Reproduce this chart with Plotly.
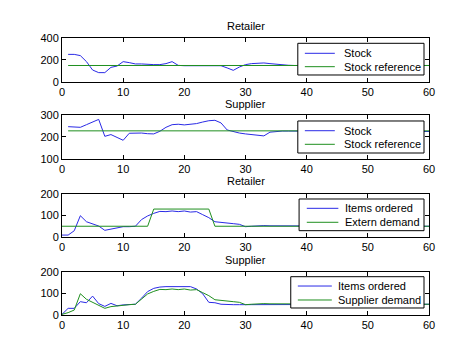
import plotly.graph_objects as go

# ---- data ----
t_stock = list(range(1, 61))
t_order = list(range(0, 61))

retailer_stock = [251, 251, 240, 185, 109, 85, 85, 133, 145, 185,
                  176, 164, 164, 158, 158, 158, 167, 185, 151, 148,
                  148, 148, 148, 148, 148, 148, 128, 106, 136, 158,
                  167, 170, 173, 167, 160, 155, 152, 150, 150, 150,
                  150, 150, 150, 150, 150, 150, 150, 150, 150, 150,
                  150, 150, 150, 150, 150, 150, 150, 150, 150, 150]
retailer_stock_ref = [150, 150, 150, 150, 150, 150, 150, 150, 150, 150,
                      150, 150, 150, 150, 150, 150, 150, 150, 150, 150,
                      150, 150, 150, 150, 150, 150, 150, 150, 150, 150,
                      150, 150, 150, 150, 150, 150, 150, 150, 150, 150,
                      150, 150, 150, 150, 150, 150, 150, 150, 150, 150,
                      150, 150, 150, 150, 150, 150, 150, 150, 150, 150]

supplier_stock = [247, 247, 244, 256, 268, 280, 203, 211, 198, 185,
                  217, 218, 218, 215, 214, 226, 244, 256, 258, 255,
                  258, 261, 268, 274, 276, 264, 232, 224, 218, 214,
                  211, 209, 205, 222, 226, 227, 227, 227, 227, 227,
                  227, 227, 227, 227, 227, 227, 227, 227, 227, 227,
                  226, 226, 226, 226, 226, 226, 225, 225, 225, 225]
supplier_stock_ref = [228, 228, 228, 228, 228, 228, 228, 228, 228, 228,
                      228, 228, 228, 228, 228, 228, 228, 228, 228, 228,
                      228, 228, 228, 228, 228, 228, 228, 228, 228, 228,
                      228, 228, 228, 228, 228, 228, 228, 228, 228, 228,
                      228, 228, 228, 228, 228, 228, 228, 228, 228, 228,
                      228, 228, 228, 228, 228, 228, 228, 228, 228, 228]

retailer_ordered = [9, 9, 29, 99, 71, 60, 51, 31, 37, 45,
                    48, 48, 50, 81, 98, 110, 119, 118, 121, 118,
                    121, 116, 118, 104, 90, 71, 67, 65, 62, 59,
                    48, 50, 52, 53, 52, 52, 51, 51, 50, 50,
                    50, 50, 50, 50, 50, 50, 50, 50, 50, 50,
                    50, 50, 50, 50, 50, 50, 50, 50, 50, 50, 50]
extern_demand = [50, 50, 50, 50, 50, 50, 50, 50, 50, 50,
                 50, 50, 50, 50, 50, 130, 130, 130, 130, 130,
                 130, 130, 130, 130, 130, 50, 50, 50, 50, 50,
                 50, 50, 50, 50, 50, 50, 50, 50, 50, 50,
                 50, 50, 50, 50, 50, 50, 50, 50, 50, 50,
                 50, 50, 50, 50, 50, 50, 50, 50, 50, 50, 50]

supplier_ordered = [3, 31, 31, 62, 57, 88, 53, 40, 54, 43,
                    47, 48, 50, 78, 109, 124, 130, 132, 132, 132,
                    132, 132, 121, 99, 59, 57, 50, 48, 48, 48,
                    48, 50, 48, 49, 50, 50, 50, 50, 50, 50,
                    50, 50, 50, 50, 50, 50, 50, 50, 50, 50,
                    50, 50, 50, 50, 50, 50, 50, 50, 50, 50, 50]
supplier_demand = [3, 11, 23, 99, 73, 59, 48, 31, 39, 43,
                   47, 48, 50, 73, 98, 110, 119, 118, 121, 118,
                   121, 116, 118, 104, 90, 71, 67, 65, 62, 59,
                   48, 50, 52, 53, 52, 52, 51, 51, 50, 50,
                   50, 50, 50, 50, 50, 50, 50, 50, 50, 50,
                   50, 50, 50, 50, 50, 50, 50, 50, 50, 50, 50]

titles = ["Retailer", "Supplier", "Retailer", "Supplier"]
x_ticks = [0, 10, 20, 30, 40, 50, 60]

BLUE = "#2a2ae6"
GREEN = "#1f8f1f"
FONT = "Liberation Sans, Arial, sans-serif"
FS = 11

fig = go.Figure()

panels = [
    (t_stock, retailer_stock, "Stock", t_stock, retailer_stock_ref, "Stock reference"),
    (t_stock, supplier_stock, "Stock", t_stock, supplier_stock_ref, "Stock reference"),
    (t_order, retailer_ordered, "Items ordered", t_order, extern_demand, "Extern demand"),
    (t_order, supplier_ordered, "Items ordered", t_order, supplier_demand, "Supplier demand"),
]

for i, (xa, ya, na, xb, yb, nb) in enumerate(panels):
    sfx = "" if i == 0 else str(i + 1)
    fig.add_trace(go.Scatter(x=xa, y=ya, name=na, mode="lines",
                             line=dict(color=BLUE, width=1), showlegend=False,
                             xaxis="x" + sfx, yaxis="y" + sfx))
    fig.add_trace(go.Scatter(x=xb, y=yb, name=nb, mode="lines",
                             line=dict(color=GREEN, width=1), showlegend=False,
                             xaxis="x" + sfx, yaxis="y" + sfx))

# layout geometry (pixels): plot area left 61.7, right 429, top 38, bottom 315
domains = [(0.8412, 1.0), (0.5632, 0.722), (0.2816, 0.4368), (0.0, 0.1552)]
y_ranges = [(0, 400), (100, 300), (0, 200), (0, 200)]
y_ticks = [[0, 200, 400], [100, 200, 300], [0, 100, 200], [0, 100, 200]]
title_shift = [12, 11, 13, 12]

# legend boxes in axis-domain fractions: (x0, x1, y0, y1, line_x0, line_x1, text_x, row1_y, row2_y)
legend_geo = [
    (0.6425, 0.9864, 0.159, 0.8795, 0.6617, 0.7434, 0.7623, 0.652, 0.348),
    (0.6425, 0.9864, 0.136, 0.864, 0.6617, 0.7434, 0.7623, 0.643, 0.334),
    (0.6460, 0.9864, 0.147, 0.884, 0.6670, 0.7530, 0.7665, 0.667, 0.342),
    (0.6233, 0.9864, 0.163, 0.891, 0.6426, 0.7352, 0.7460, 0.674, 0.349),
]

axis_common = dict(showline=True, linecolor="black", linewidth=1, mirror="ticks",
                   ticks="inside", ticklen=4, tickcolor="black", showgrid=False,
                   zeroline=False, tickfont=dict(family=FONT, size=FS, color="black"))

layout = dict(
    width=474, height=356,
    margin=dict(l=54, r=53, t=30, b=49),
    paper_bgcolor="white", plot_bgcolor="white",
    font=dict(family=FONT, size=FS, color="black"),
    showlegend=False,
)

annotations = []
shapes = []
for i in range(4):
    sfx = "" if i == 0 else str(i + 1)
    layout["xaxis" + sfx] = dict(domain=[0, 1], range=[0, 60], tickvals=x_ticks,
                                 anchor="y" + sfx, **axis_common)
    layout["yaxis" + sfx] = dict(domain=list(domains[i]), range=list(y_ranges[i]),
                                 tickvals=y_ticks[i], anchor="x" + sfx, **axis_common)
    annotations.append(dict(text=titles[i], x=0.5, xref="paper", y=domains[i][1], yref="paper",
                            xanchor="center", yanchor="middle", yshift=title_shift[i],
                            showarrow=False, font=dict(family=FONT, size=FS, color="black")))
    # legend drawn as shapes + text
    x0, x1, y0, y1, lx0, lx1, tx, r1, r2 = legend_geo[i]
    xr = "x" + sfx + " domain"
    yr = "y" + sfx + " domain"
    shapes.append(dict(type="rect", xref=xr, yref=yr, x0=x0, x1=x1, y0=y0, y1=y1,
                       fillcolor="white", line=dict(color="black", width=1), layer="above"))
    for ry, col, name in ((r1, BLUE, panels[i][2]), (r2, GREEN, panels[i][5])):
        shapes.append(dict(type="line", xref=xr, yref=yr, x0=lx0, x1=lx1, y0=ry, y1=ry,
                           line=dict(color=col, width=1), layer="above"))
        annotations.append(dict(text=name, xref=xr, yref=yr, x=tx, y=ry,
                                xanchor="left", yanchor="middle", showarrow=False,
                                font=dict(family=FONT, size=FS, color="black")))

layout["annotations"] = annotations
layout["shapes"] = shapes
fig.update_layout(**layout)
fig.write_html("out.html")
